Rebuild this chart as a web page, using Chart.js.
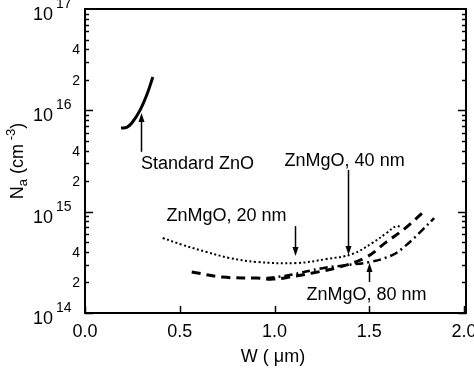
<!DOCTYPE html>
<html>
<head>
<meta charset="utf-8">
<script src="https://cdn.jsdelivr.net/npm/chart.js@4.4.0/dist/chart.umd.min.js"></script>
<style>
  html, body { margin: 0; padding: 0; background: #fff; }
  #c { display: block; }
</style>
</head>
<body>
<canvas id="c" width="474" height="371"></canvas>
<script>
// ---- Data ----
const stdW  = [0.19, 0.22, 0.247, 0.29, 0.326, 0.358];
const stdN  = [6.7e15, 6.8e15, 7.5e15, 1.0e16, 1.42e16, 2.13e16];

const mg20W = [0.41, 0.516, 0.642, 0.763, 0.905, 1.116, 1.274, 1.41, 1.516, 1.59, 1.642, 1.668];
const mg20N = [5.5e14, 4.69e14, 4.0e14, 3.49e14, 3.19e14, 3.11e14, 3.41e14, 3.82e14, 4.91e14, 6.15e14, 7.2e14, 7.0e14];

const mg40W = [0.563, 0.726, 0.905, 0.989, 1.079, 1.2, 1.342, 1.484, 1.589, 1.695, 1.779];
const mg40N = [2.54e14, 2.26e14, 2.21e14, 2.16e14, 2.26e14, 2.48e14, 2.84e14, 3.56e14, 5.0e14, 7.0e14, 9.7e14];

const mg80W = [0.958, 1.079, 1.253, 1.379, 1.5, 1.621, 1.695, 1.779, 1.842];
const mg80N = [2.21e14, 2.37e14, 2.77e14, 2.97e14, 3.18e14, 3.73e14, 4.68e14, 6.58e14, 8.64e14];

const xTicks = [0.0, 0.5, 1.0, 1.5, 2.0];
const xTickLabels = ["0.0", "0.5", "1.0", "1.5", "2.0"];
const yDecades = [14, 15, 16, 17];
const yMinorLabelled = [2, 4];

// annotations: label text, label anchor (data units), arrow tail & head (data units)
const annLabels = ["Standard ZnO", "ZnMgO, 20 nm", "ZnMgO, 40 nm", "ZnMgO, 80 nm"];
const annTextW  = [0.295, 0.43, 1.053, 1.168];
const annTextN  = [2.95e15, 9.06e14, 3.16e15, 1.5e14];
const annArrowW = [0.295, 1.11, 1.39, 1.50];
const annTailN  = [3.9e15, 7.2e14, 2.58e15, 2.02e14];
const annHeadN  = [9.4e15, 3.65e14, 3.73e14, 3.11e14];

const toPts = (xs, ys) => xs.map((x, i) => ({x: x, y: ys[i]}));

const FONT = '"Liberation Sans", Arial, Helvetica, sans-serif';

const decorPlugin = {
  id: 'decor',
  afterDatasetsDraw(chart) {
    const ctx = chart.ctx;
    const xs = chart.scales.x, ys = chart.scales.y;
    const a = chart.chartArea;
    ctx.save();
    ctx.strokeStyle = '#000';
    ctx.fillStyle = '#000';
    // frame
    ctx.lineWidth = 2;
    ctx.strokeRect(a.left, a.top, a.right - a.left, a.bottom - a.top);

    // y ticks (both sides, inward)
    ctx.lineWidth = 1.5;
    for (let n = 14; n <= 16; n++) {
      for (let k = 1; k <= 9; k++) {
        const py = Math.round(ys.getPixelForValue(k * Math.pow(10, n))) + 0.5;
        const len = k === 1 ? 8 : 4;
        ctx.beginPath();
        ctx.moveTo(a.left, py); ctx.lineTo(a.left + len, py);
        ctx.moveTo(a.right, py); ctx.lineTo(a.right - len, py);
        ctx.stroke();
      }
    }
    // x ticks (bottom, inward)
    xTicks.forEach(v => {
      const px = Math.round(xs.getPixelForValue(v)) + 0.5;
      ctx.beginPath();
      ctx.moveTo(px, a.bottom); ctx.lineTo(px, a.bottom - 7);
      ctx.stroke();
    });

    // x tick labels
    ctx.font = '18px ' + FONT;
    ctx.textAlign = 'center';
    ctx.textBaseline = 'middle';
    xTicks.forEach((v, i) => {
      ctx.fillText(xTickLabels[i], xs.getPixelForValue(v), a.bottom + 19);
    });

    // y tick labels: decades
    yDecades.forEach(n => {
      const py = ys.getPixelForValue(Math.pow(10, n));
      ctx.font = '18px ' + FONT;
      ctx.textAlign = 'right';
      ctx.textBaseline = 'middle';
      ctx.fillText('10', 53, py + 6);
      ctx.font = '14px ' + FONT;
      ctx.textAlign = 'left';
      ctx.fillText(String(n), 56, py - 5);
    });
    // y tick labels: minor 2 and 4
    ctx.font = '14px ' + FONT;
    ctx.textAlign = 'right';
    ctx.textBaseline = 'middle';
    for (let n = 14; n <= 16; n++) {
      yMinorLabelled.forEach(k => {
        ctx.fillText(String(k), 80, ys.getPixelForValue(k * Math.pow(10, n)) + 1);
      });
    }

    // x axis title
    ctx.font = '18px ' + FONT;
    ctx.textAlign = 'center';
    ctx.textBaseline = 'middle';
    ctx.fillText('W ( \u03BCm)', 273, 357);

    // y axis title (rotated): N_a (cm^-3)
    ctx.save();
    ctx.translate(18, 161);
    ctx.rotate(-Math.PI / 2);
    ctx.textBaseline = 'middle';
    ctx.textAlign = 'left';
    const parts = [
      {t: 'N', f: 18, dy: 0},
      {t: 'a', f: 13, dy: 5},
      {t: ' (cm', f: 18, dy: 0},
      {t: ' -3', f: 13, dy: -7},
      {t: ')', f: 18, dy: 0}
    ];
    let total = 0;
    parts.forEach(p => { ctx.font = p.f + 'px ' + FONT; p.w = ctx.measureText(p.t).width; total += p.w; });
    let cx = -total / 2;
    parts.forEach(p => {
      ctx.font = p.f + 'px ' + FONT;
      ctx.fillText(p.t, cx, p.dy);
      cx += p.w;
    });
    ctx.restore();

    // annotations
    ctx.font = '18px ' + FONT;
    ctx.textAlign = 'left';
    ctx.textBaseline = 'middle';
    ctx.lineWidth = 1.5;
    annLabels.forEach((lab, i) => {
      ctx.fillText(lab, xs.getPixelForValue(annTextW[i]), ys.getPixelForValue(annTextN[i]));
      const px = Math.round(xs.getPixelForValue(annArrowW[i])) + 0.5;
      const ty = ys.getPixelForValue(annTailN[i]);
      const hy = ys.getPixelForValue(annHeadN[i]);
      const dir = hy > ty ? 1 : -1;
      ctx.beginPath();
      ctx.moveTo(px, ty); ctx.lineTo(px, hy - dir * 6);
      ctx.stroke();
      ctx.beginPath();
      ctx.moveTo(px, hy);
      ctx.lineTo(px - 3, hy - dir * 9);
      ctx.lineTo(px + 3, hy - dir * 9);
      ctx.closePath();
      ctx.fill();
    });
    ctx.restore();
  }
};

new Chart(document.getElementById('c'), {
  type: 'line',
  data: {
    datasets: [
      { label: 'Standard ZnO', data: toPts(stdW, stdN), borderColor: '#000', borderWidth: 3, pointRadius: 0, tension: 0.4, fill: false },
      { label: 'ZnMgO, 20 nm', data: toPts(mg20W, mg20N), borderColor: '#000', borderWidth: 2, borderDash: [2, 2.5], pointRadius: 0, tension: 0.4, fill: false },
      { label: 'ZnMgO, 40 nm', data: toPts(mg40W, mg40N), borderColor: '#000', borderWidth: 3, borderDash: [9, 6], pointRadius: 0, tension: 0.4, fill: false },
      { label: 'ZnMgO, 80 nm', data: toPts(mg80W, mg80N), borderColor: '#000', borderWidth: 2.5, borderDash: [8, 4, 2, 4], pointRadius: 0, tension: 0.4, fill: false }
    ]
  },
  options: {
    responsive: false,
    devicePixelRatio: 1,
    animation: false,
    layout: { padding: { left: 85, right: 8, top: 9, bottom: 58 } },
    plugins: { legend: { display: false }, tooltip: { enabled: false } },
    scales: {
      x: { type: 'linear', min: 0, max: 2.01, display: false },
      y: { type: 'logarithmic', min: 1e14, max: 1e17, display: false }
    }
  },
  plugins: [decorPlugin]
});
</script>
</body>
</html>
